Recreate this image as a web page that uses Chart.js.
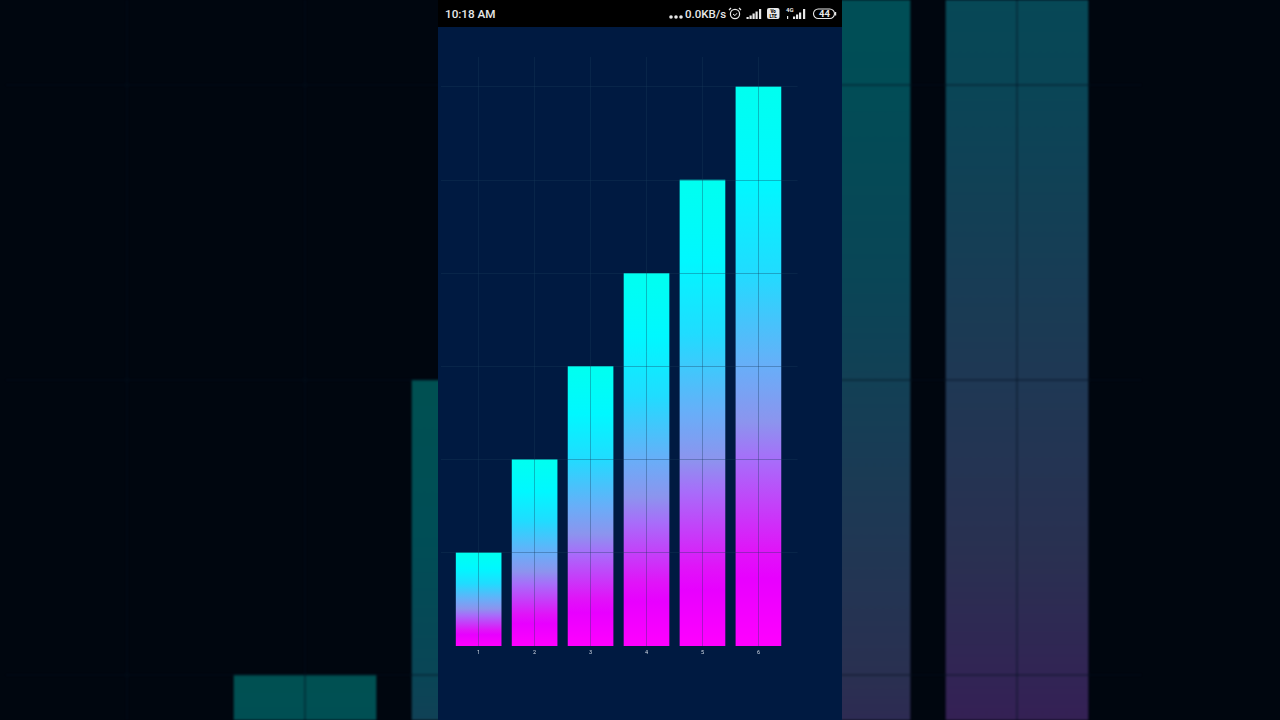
<!DOCTYPE html>
<html>
<head>
<meta charset="utf-8">
<script src="https://cdn.jsdelivr.net/npm/chart.js@4"></script>
<style>
  html, body { margin: 0; width: 1280px; height: 720px; overflow: hidden; background: #00060f; }
  canvas { position: absolute; display: block; }
  #backChart { left: 0; top: 0; opacity: 0.3; filter: blur(0.8px); }
  #panel { position: absolute; left: 438px; top: 0; width: 404px; height: 720px; background: #001a41; }
  #mainChart { left: 438px; top: 27px; }
  #status { position: absolute; left: 438px; top: 0; width: 404px; height: 27px; background: #000; color: #e8e8e8;
            font: 500 11.5px Roboto, sans-serif; }
  #status span { position: absolute; top: 7px; white-space: nowrap; }
  #status svg { position: absolute; top: 0; left: 0; }
</style>
</head>
<body>
<canvas id="backChart" width="1280" height="720"></canvas>
<div id="panel"></div>
<canvas id="mainChart" width="404" height="693"></canvas>
<div id="status">
  <span style="left:7px;font-size:11.7px">10:18 AM</span>
  <span style="left:247px">0.0KB/s</span>
  <span style="left:381px;top:8px;font-size:9.5px;font-weight:700">44</span>
  <svg width="404" height="27" fill="#e8e8e8" stroke="none">
    <circle cx="233" cy="17" r="1.8"/><circle cx="238" cy="17" r="1.8"/><circle cx="243" cy="17" r="1.8"/>
    <circle cx="297" cy="14" r="4.6" fill="none" stroke="#e8e8e8" stroke-width="1.2"/>
    <path d="M295 14l2 1.6 2-2.4" fill="none" stroke="#e8e8e8" stroke-width="1"/>
    <path d="M291 10l2-2M303 10l-2-2" fill="none" stroke="#e8e8e8" stroke-width="1.2"/>
    <path d="M308.500 17h2.200v2h-2.200zM311.500 15.500h2.200v3.500h-2.200zM314.500 13.500h2.200v5.500h-2.200zM317.500 11.500h2.200v7.500h-2.200zM321 9h2.200v10H321z"/>
    <rect x="329" y="8" width="12.500" height="11" rx="2"/>
    <text x="335.200" y="13" font-size="4.500" font-family="Roboto" font-weight="900" fill="#000" text-anchor="middle">Vo</text>
    <text x="335.200" y="18" font-size="4.500" font-family="Roboto" font-weight="900" fill="#000" text-anchor="middle">LTE</text>
    <path d="M349 16h1.200v3h-1.200zM355 16.500h2.200v2.500h-2.200zM358 14.500h2.200v4.500h-2.200zM361 12.500h2.200v6.500h-2.200zM365 9h2.200v10H365z"/>
    <text x="348" y="11.500" font-size="6" font-family="Roboto" font-weight="700">4G</text>
    <rect x="375.500" y="9" width="21" height="9.500" rx="4.700" fill="none" stroke="#e8e8e8" stroke-width="1.100"/>
    <rect x="397" y="12" width="1.200" height="3.500"/>
  </svg>
</div>
<script>
const categories = [1, 2, 3, 4, 5, 6];
const seriesValues = [1, 2, 3, 4, 5, 6];
const yTicks = [1, 2, 3, 4, 5, 6];

// gradient runs top to bottom of each single bar
function barGradient(context) {
  if (context.raw === undefined) return "#00ffff";
  const chart = context.chart;
  const yScale = chart.scales.y;
  const top = yScale.getPixelForValue(context.raw.y);
  const base = yScale.getPixelForValue(0);
  // the options get resolved once before layout, when pixels aren't known yet
  if (!Number.isFinite(top) || !Number.isFinite(base)) return "#00ffff";
  const g = chart.ctx.createLinearGradient(0, top, 0, base);
  g.addColorStop(0, "#00fff0");
  g.addColorStop(0.17, "#00f8ff");
  g.addColorStop(0.33, "#20dcff");
  g.addColorStop(0.5, "#68aef8");
  g.addColorStop(0.6, "#8c94ee");
  g.addColorStop(0.67, "#a86cfa");
  g.addColorStop(0.83, "#e014f8");
  g.addColorStop(0.88, "#e800ff");
  g.addColorStop(1, "#ff00ff");
  return g;
}

function makeChart(id, opts) {
  return new Chart(document.getElementById(id), {
    type: "bar",
    data: {
      datasets: [{
        data: categories.map((c, i) => ({ x: c, y: seriesValues[i] })),
        backgroundColor: barGradient,
        barThickness: opts.barWidth,
      }],
    },
    options: {
      responsive: false,
      animation: false,
      layout: { padding: opts.padding },
      plugins: { legend: { display: false }, tooltip: { enabled: false } },
      scales: {
        x: {
          type: "linear",
          offset: false,
          min: 0.32,
          max: 6.7,
          afterFit: (s) => { s.height = opts.xHeight; },
          afterBuildTicks: (s) => { s.ticks = categories.map((c) => ({ value: c })); },
          grid: { offset: false, z: 1, color: opts.gridColor, lineWidth: opts.gridWidth, drawTicks: false },
          border: { display: false },
          ticks: {
            display: opts.showLabels,
            color: "#d4dde8",
            padding: 3,
            maxRotation: 0,
            font: { size: 5.5, family: "Roboto" },
          },
        },
        y: {
          min: opts.yMin,
          max: opts.yMax,
          afterFit: (s) => { s.width = 0; },
          afterBuildTicks: (s) => { s.ticks = yTicks.map((v) => ({ value: v })).filter((t) => t.value >= s.min); },
          grid: { z: 1, color: opts.gridColor, lineWidth: opts.gridWidth, drawTicks: false },
          border: { display: false },
          ticks: { display: false },
        },
      },
    },
  });
}

// blurred, enlarged copy of the same chart behind the phone panel
makeChart("backChart", {
  barWidth: 142,
  padding: { left: 6, right: 138.4, top: 0, bottom: 0 },
  xHeight: 0,
  showLabels: false,
  gridColor: "rgba(10,40,70,0.4)",
  gridWidth: 2,
  yMin: 1.8475,
  yMax: 4.288,
});

makeChart("mainChart", {
  barWidth: 45,
  padding: { left: 2.6, right: 44.4, top: 30, bottom: 0 },
  xHeight: 74,
  showLabels: true,
  gridColor: "rgba(24,60,92,0.34)",
  gridWidth: 1,
  yMin: 0,
  yMax: 6.32,
});
</script>
</body>
</html>
